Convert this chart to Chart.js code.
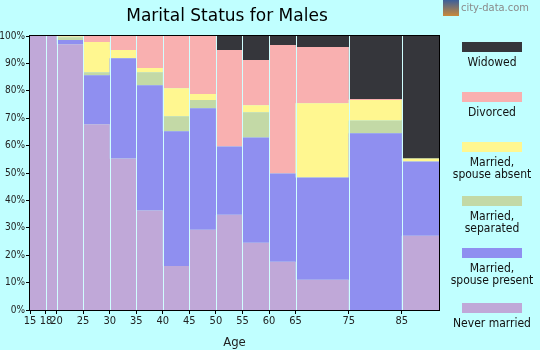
<!DOCTYPE html>
<html>
<head>
<meta charset="utf-8">
<script src="https://cdn.jsdelivr.net/npm/chart.js@4"></script>
<style>
  body { margin: 0; background: #c0ffff; }
  #wrap { position: relative; width: 540px; height: 350px; font-family: "DejaVu Sans Condensed", "DejaVu Sans", sans-serif; }
  canvas { display: block; }
  #title { position: absolute; left: 27px; top: 4px; width: 400px; text-align: center; font-family: "DejaVu Sans", sans-serif; font-size: 17px; line-height: 22px; color: #000; }
  #legend { position: absolute; left: 442px; top: 42px; width: 100px; }
  .item { position: absolute; left: 0; width: 100px; text-align: center; font-size: 12px; line-height: 12px; color: #111; }
  .item .box { width: 60px; height: 10px; margin: 0 auto 4px auto; }
  #brand { position: absolute; left: 443px; top: 0px; font-size: 11px; line-height: 16px; color: #8a8a8a; }
  #brand span { display: inline-block; width: 16px; height: 16px; background: linear-gradient(#3b5f9a, #c98a3a); vertical-align: top; margin-right: 2px; }
</style>
</head>
<body>
<div id="wrap">
  <canvas id="chart" width="540" height="350"></canvas>
  <div id="title">Marital Status for Males</div>
  <div id="brand"><span></span>city-data.com</div>
  <div id="legend"></div>
</div>
<script>
// age bin edges (last edge closes the 85+ bin)
const ageEdges = [15, 18, 20, 25, 30, 35, 40, 45, 50, 55, 60, 65, 75, 85, 92];
const tickAges = [15, 18, 20, 25, 30, 35, 40, 45, 50, 55, 60, 65, 75, 85];

// percent of males in each age bin
const neverMarried   = [100, 100, 97.0, 67.8, 55.3, 36.3, 16.1, 29.3, 34.8, 24.5, 17.6, 11.0, 0, 27.1];
const spousePresent  = [0, 0, 1.5, 17.9, 36.6, 45.7, 49.1, 44.3, 24.9, 38.5, 32.2, 37.4, 64.5, 27.1];
const separated      = [0, 0, 1.0, 1.1, 0, 4.8, 5.5, 3.0, 0, 9.2, 0, 0, 4.7, 0];
const spouseAbsent   = [0, 0, 0.3, 11.0, 3.0, 1.5, 10.2, 2.2, 0, 2.5, 0, 27.1, 7.4, 1.1];
const divorced       = [0, 0, 0.2, 2.2, 5.1, 11.7, 19.1, 21.2, 35.2, 16.5, 46.9, 20.5, 0.4, 0];
const widowed        = [0, 0, 0, 0, 0, 0, 0, 0, 5.1, 8.8, 3.3, 4.0, 23.0, 44.7];

const series = [
  { label: "Never married", values: neverMarried, color: "#c0a8d8" },
  { label: "Married, spouse present", values: spousePresent, color: "#8f8ff0" },
  { label: "Married, separated", values: separated, color: "#c3d9a6" },
  { label: "Married, spouse absent", values: spouseAbsent, color: "#fff790" },
  { label: "Divorced", values: divorced, color: "#f9b0b0" },
  { label: "Widowed", values: widowed, color: "#35363b" }
];

// step points: each bin holds its value until the next edge
const toSteps = (values) =>
  ageEdges.map((x, i) => ({ x: x, y: values[Math.min(i, values.length - 1)] }));

// light separators between the age bins, then a black frame round the plot
const frame = {
  id: "frame",
  afterDatasetsDraw(chart) {
    const { ctx, chartArea: a, scales } = chart;
    ctx.save();
    ctx.strokeStyle = "#d0ffff";
    ctx.lineWidth = 1;
    tickAges.slice(1).forEach((age) => {
      const x = Math.round(scales.x.getPixelForValue(age)) + 0.5;
      ctx.beginPath();
      ctx.moveTo(x, a.top);
      ctx.lineTo(x, a.bottom);
      ctx.stroke();
    });
    ctx.strokeStyle = "#000";
    ctx.strokeRect(a.left - 0.5, a.top - 0.5, a.right - a.left + 1, a.bottom - a.top + 1);
    ctx.restore();
  }
};

const font = "'DejaVu Sans Condensed', 'DejaVu Sans', sans-serif";

new Chart(document.getElementById("chart"), {
  type: "line",
  data: {
    datasets: series.map((s, i) => ({
      label: s.label,
      data: toSteps(s.values),
      stepped: "before",
      backgroundColor: s.color,
      borderColor: s.color,
      borderWidth: 0,
      pointRadius: 0,
      fill: i === 0 ? "origin" : "-1"
    }))
  },
  options: {
    responsive: false,
    animation: false,
    layout: { padding: { top: 36, right: 101 } },
    plugins: {
      legend: { display: false },
      tooltip: { enabled: false },
      title: { display: false }
    },
    scales: {
      x: {
        type: "linear",
        min: 15,
        max: 92,
        afterBuildTicks: (scale) => { scale.ticks = tickAges.map(v => ({ value: v })); },
        afterFit: (scale) => { scale.height = 40; },
        ticks: { autoSkip: false, maxRotation: 0, color: "#222", padding: 1, font: { family: font, size: 11 } },
        grid: { drawOnChartArea: false, color: "#000", tickLength: 4 },
        border: { color: "#000" },
        title: { display: true, text: "Age", color: "#222", font: { family: font, size: 13 }, padding: { top: 0, bottom: 0 } }
      },
      y: {
        stacked: true,
        min: 0,
        max: 100,
        afterFit: (scale) => { scale.width = 30; },
        ticks: { stepSize: 10, padding: 1, color: "#222", font: { family: font, size: 10 }, callback: (v) => v + "%" },
        grid: { drawOnChartArea: false, color: "#000", tickLength: 4 },
        border: { color: "#000" }
      }
    }
  },
  plugins: [frame]
});

// legend, top to bottom as in the original
const legendTops = [0, 50, 100, 154, 206, 261];
const legendLines = {
  "Widowed": ["Widowed"],
  "Divorced": ["Divorced"],
  "Married, spouse absent": ["Married,", "spouse absent"],
  "Married, separated": ["Married,", "separated"],
  "Married, spouse present": ["Married,", "spouse present"],
  "Never married": ["Never married"]
};
const legend = document.getElementById("legend");
series.slice().reverse().forEach((s, i) => {
  const item = document.createElement("div");
  item.className = "item";
  item.style.top = legendTops[i] + "px";
  item.innerHTML = '<div class="box" style="background:' + s.color + '"></div>' + legendLines[s.label].join("<br>");
  legend.appendChild(item);
});
</script>
</body>
</html>
